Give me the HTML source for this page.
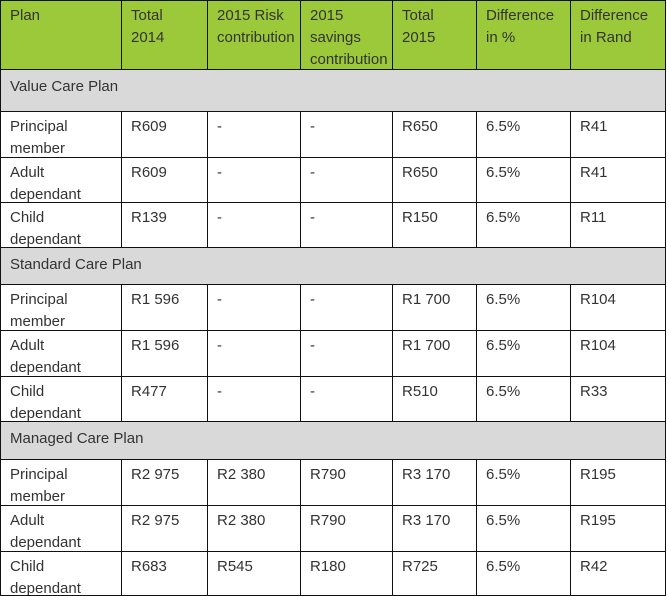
<!DOCTYPE html>
<html><head><style>
body{margin:0;background:#fff;width:667px;height:596px;overflow:hidden;font-family:"Liberation Sans",Arial,sans-serif;position:relative;}
.c{position:absolute;box-sizing:border-box;border:1px solid #111;font-size:15px;line-height:22px;color:#333;padding:4px 0 0 9px;white-space:nowrap;overflow:hidden;}
.h{background:#9cc93a;}
.g{background:#d9d9d9;padding-top:6px;}
</style></head><body>
<div id="t"></div>
<script>
var xs=[0,121,207,300,392,476,570,665];
var rows=[
[0,70,'h',['Plan','Total<br>2014','2015 Risk<br>contribution','2015<br>savings<br>contribution','Total<br>2015','Difference<br>in %','Difference<br>in Rand']],
[69,43,'g','Value Care Plan'],
[111,47,'',['Principal<br>member','R609','-','-','R650','6.5%','R41']],
[157,46,'',['Adult<br>dependant','R609','-','-','R650','6.5%','R41']],
[202,46,'',['Child<br>dependant','R139','-','-','R150','6.5%','R11']],
[247,38,'g','Standard Care Plan'],
[284,47,'',['Principal<br>member','R1 596','-','-','R1 700','6.5%','R104']],
[330,47,'',['Adult<br>dependant','R1 596','-','-','R1 700','6.5%','R104']],
[376,46,'',['Child<br>dependant','R477','-','-','R510','6.5%','R33']],
[421,39,'g','Managed Care Plan'],
[459,47,'',['Principal<br>member','R2 975','R2 380','R790','R3 170','6.5%','R195']],
[505,47,'',['Adult<br>dependant','R2 975','R2 380','R790','R3 170','6.5%','R195']],
[551,45,'',['Child<br>dependant','R683','R545','R180','R725','6.5%','R42']]
];
var h='';
rows.forEach(function(r){
 if(r[2]=='g'){h+='<div class="c g" style="left:0;top:'+r[0]+'px;width:666px;height:'+r[1]+'px">'+r[3]+'</div>';}
 else{for(var i=0;i<7;i++){h+='<div class="c '+r[2]+'" style="left:'+xs[i]+'px;top:'+r[0]+'px;width:'+(xs[i+1]-xs[i]+1)+'px;height:'+r[1]+'px">'+r[3][i]+'</div>';}}
});
document.getElementById('t').innerHTML=h;
</script>
</body></html>
